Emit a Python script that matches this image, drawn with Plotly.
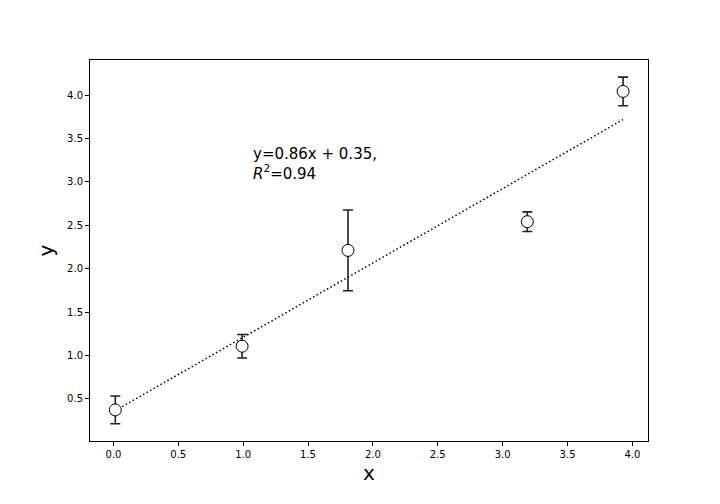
import numpy as np
import plotly.graph_objects as go

x_vals = [0.015, 0.992, 1.808, 3.19, 3.928]
y_vals = [0.373, 1.107, 2.211, 2.542, 4.043]
y_err = [0.16, 0.135, 0.465, 0.113, 0.165]

x_ticks = [0.0, 0.5, 1.0, 1.5, 2.0, 2.5, 3.0, 3.5, 4.0]
y_ticks = [0.5, 1.0, 1.5, 2.0, 2.5, 3.0, 3.5, 4.0]

xa = np.array(x_vals)
ya = np.array(y_vals)
slope, intercept = np.polyfit(xa, ya, 1)
pred = slope * xa + intercept
r2 = 1 - np.sum((ya - pred) ** 2) / np.sum((ya - ya.mean()) ** 2)
fit_x = [xa.min(), xa.max()]
fit_y = [slope * v + intercept for v in fit_x]

font_family = "DejaVu Sans"

fig = go.Figure()
fig.add_trace(go.Scatter(
    x=fit_x, y=fit_y, mode="lines",
    line=dict(color="black", width=1.5, dash="1.5px,2.5px"),
    showlegend=False, hoverinfo="skip",
))
fig.add_trace(go.Scatter(
    x=x_vals, y=y_vals, mode="markers",
    marker=dict(size=12, color="white", line=dict(color="black", width=1)),
    error_y=dict(type="data", array=y_err, visible=True, color="#222222",
                 thickness=1.6, width=5),
    showlegend=False,
))

fig.add_annotation(
    x=1.06, y=3.21, xref="x", yref="y",
    text=f"y={slope:.2f}x + {intercept:.2f},<br><i>R</i><sup>2</sup>={r2:.2f}",
    showarrow=False, xanchor="left", yanchor="middle", align="left",
    font=dict(family=font_family, size=15, color="black"),
)

axis_common = dict(
    showline=True, mirror=True, linecolor="black", linewidth=1,
    ticks="outside", ticklen=4, tickwidth=1, tickcolor="black",
    showgrid=False, zeroline=False,
    tickfont=dict(family=font_family, size=10, color="black"),
    tickformat=".1f",
)

fig.update_layout(
    width=712, height=496,
    margin=dict(l=82, r=72, t=52, b=63),
    paper_bgcolor="white", plot_bgcolor="white",
    xaxis=dict(range=[-0.18, 4.12], tickvals=x_ticks,
               title=dict(text="x", font=dict(family=font_family, size=20, color="black"), standoff=6),
               **axis_common),
    yaxis=dict(range=[0.015, 4.405], tickvals=y_ticks,
               title=dict(text="y", font=dict(family=font_family, size=20, color="black"), standoff=8),
               **axis_common),
)

fig.write_html("out.html")
